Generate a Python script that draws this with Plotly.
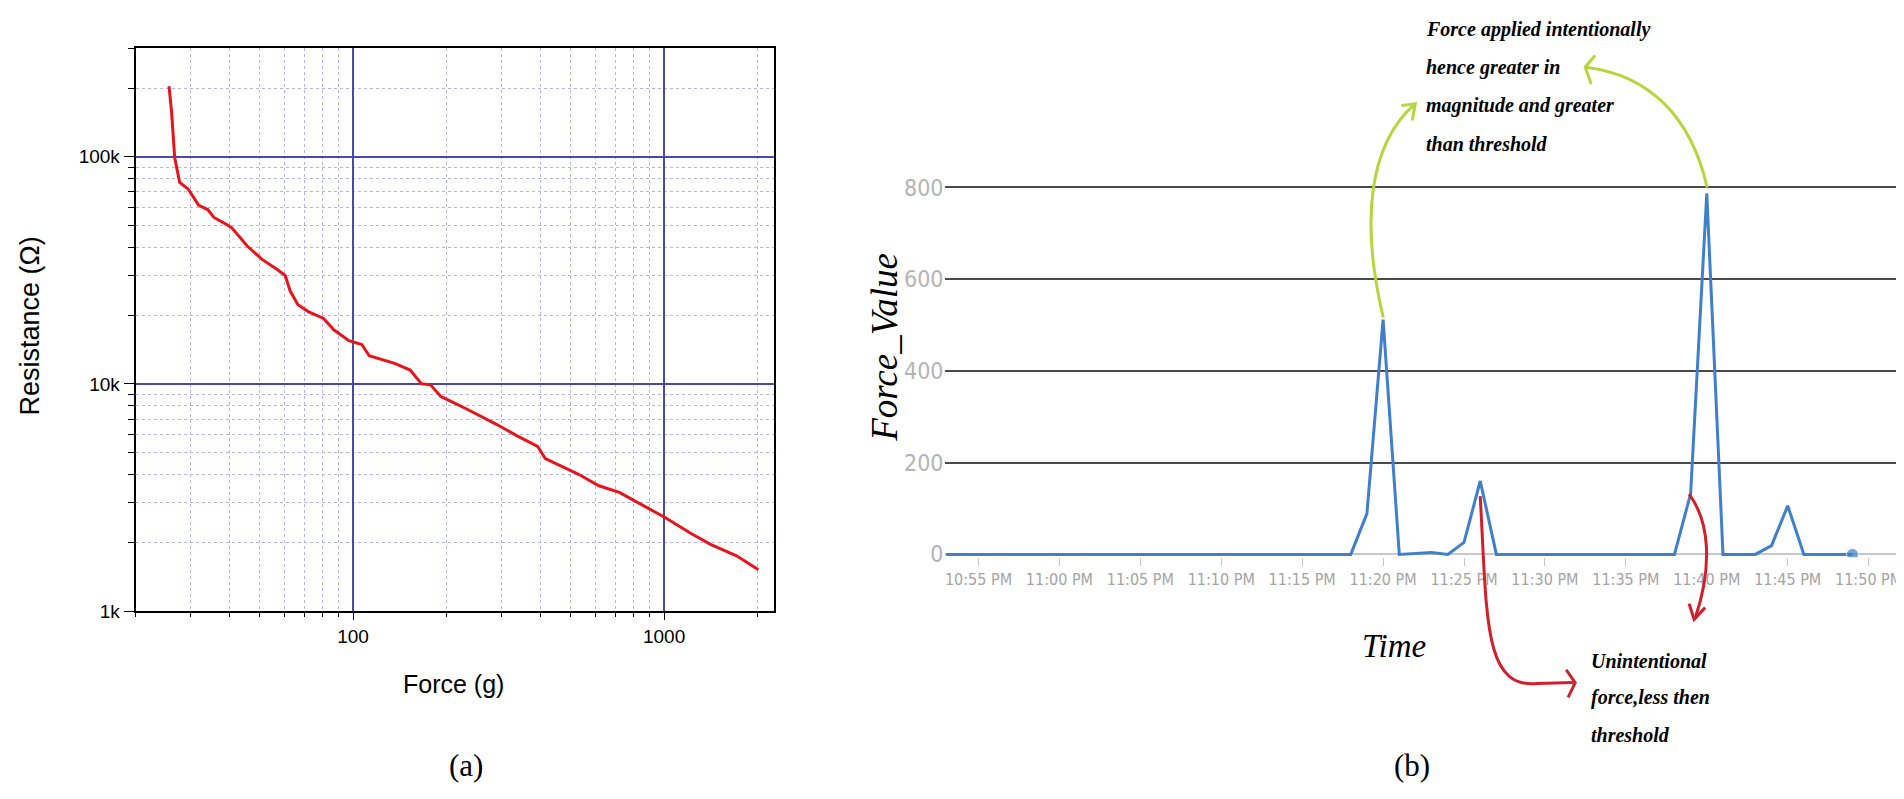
import plotly.graph_objects as go
import pandas as pd

# ---- panel (a): FSR resistance vs force (log-log) ----
force_g = [25.6, 26.1, 26.7, 27.7, 29.5, 31.9, 34.1, 35.7, 38.5, 40.7, 45.6, 51.0, 57.2,
           60.5, 62.8, 66.5, 71.8, 80.4, 86.7, 97.0, 106.7, 112.7, 136.0, 152.6, 166.0,
           177.5, 191.5, 231.0, 290.0, 337.0, 392.0, 415.0, 531.0, 617.0, 718.0, 867.0,
           1007.0, 1217.0, 1415.0, 1710.0, 2010.0]
resistance_ohm = [204000, 157000, 99000, 77000, 72000, 61000, 58500, 54000, 51000, 48700,
                  40500, 35300, 31800, 30000, 25600, 22300, 20800, 19400, 17300, 15500,
                  14900, 13300, 12300, 11500, 10000, 9900, 8800, 7770, 6620, 5900, 5310,
                  4690, 4000, 3560, 3330, 2900, 2580, 2200, 1960, 1750, 1520]

res_tickvals = [1000, 10000, 100000]
res_ticktext = ["1k", "10k", "100k"]
force_tickvals = [100, 1000]
force_ticktext = ["100", "1000"]

# ---- panel (b): force value over time ----
time_start = "2017-01-01 22:53"
force_value = [0] * 25 + [0, 89, 512, 0, 2, 4, 0, 26, 160, 0] + [0] * 11 + \
              [132, 787, 0, 0, 0, 19, 106, 0, 0, 0, 0]
times = pd.date_range(time_start, periods=len(force_value), freq="1min")

top_note = ["Force applied intentionally", "hence greater in",
            "magnitude and greater", "than threshold"]
bottom_note = ["Unintentional", "force,less then", "threshold"]

W, H = 1904, 799
NARROW = "Liberation Sans Narrow, DejaVu Sans Condensed, Arial Narrow, Liberation Sans"
SERIF = "Liberation Serif, Times New Roman"


def px(x, y):
    return x / W, 1 - y / H


def path(points, cmd):
    # build an svg path in paper coordinates from pixel points
    out = []
    for c, pts in zip(cmd, points):
        s = " ".join("%.5f,%.5f" % px(*p) for p in pts)
        out.append(c + " " + s)
    return " ".join(out)


fig = go.Figure()

fig.add_trace(go.Scatter(
    x=force_g, y=resistance_ohm, mode="lines",
    line=dict(color="#e8141c", width=3),
    xaxis="x", yaxis="y", showlegend=False
))

sizes = [0] * (len(force_value) - 1) + [12]
fig.add_trace(go.Scatter(
    x=times, y=force_value, mode="lines+markers",
    line=dict(color="#3f7fcc", width=3),
    marker=dict(size=sizes, color="#3f7fcc"),
    xaxis="x2", yaxis="y2", showlegend=False
))

minor_x = [v * m for v in (10, 100, 1000) for m in range(2, 10) if 20 <= v * m <= 2000]
minor_y = [v * m for v in (1000, 10000, 100000) for m in range(2, 10) if v * m <= 300000]

fig.update_layout(
    width=W, height=H,
    margin=dict(l=0, r=0, t=0, b=0),
    paper_bgcolor="white", plot_bgcolor="white",
    font=dict(family="Liberation Sans, Arial", color="black"),
    xaxis=dict(
        type="log", domain=[127.7 / W, 766 / W], range=[1.301, 3.352],
        tickmode="array", tickvals=force_tickvals, ticktext=force_ticktext,
        tickfont=dict(size=19), ticks="outside", ticklen=7, tickcolor="black",
        showgrid=True, gridcolor="#4848b0", gridwidth=1.5,
        minor=dict(tickmode="array", tickvals=minor_x, ticks="outside", ticklen=4,
                   tickcolor="black", showgrid=True, gridcolor="#b4b4ea", griddash="dot",
                   gridwidth=1),
        showline=True, mirror=True, linecolor="black", linewidth=2,
        zeroline=False, anchor="y",
    ),
    yaxis=dict(
        type="log", domain=[1 - 611.5 / H, 1 - 40.8 / H], range=[3, 5.477],
        tickmode="array", tickvals=res_tickvals, ticktext=res_ticktext,
        tickfont=dict(size=19), ticks="outside", ticklen=10, tickcolor="black",
        showgrid=True, gridcolor="#4848b0", gridwidth=1.5,
        minor=dict(tickmode="array", tickvals=minor_y, ticks="outside", ticklen=6,
                   tickcolor="black", showgrid=True, gridcolor="#b4b4ea", griddash="dot",
                   gridwidth=1),
        showline=True, mirror=True, linecolor="black", linewidth=2,
        zeroline=False, anchor="x",
    ),
    xaxis2=dict(
        type="date", domain=[937 / W, 1894 / W],
        range=["2017-01-01 22:52:54", "2017-01-01 23:52:00"],
        tick0="2017-01-01 22:55", dtick=300000, tickformat="%-I:%M %p",
        tickfont=dict(size=16, color="#a4a4a4", family=NARROW),
        ticks="outside", ticklen=8, tickcolor="#c4c4c4",
        showgrid=False, showline=False, zeroline=False, anchor="y2",
    ),
    yaxis2=dict(
        domain=[1 - 556.8 / H, 1 - 112.25 / H], range=[-6, 950],
        tickmode="array", tickvals=[0, 200, 400, 600, 800],
        tickfont=dict(size=23, color="#b4b4b4", family=NARROW),
        showgrid=True, gridcolor="#4a4a4a", gridwidth=2,
        zeroline=True, zerolinecolor="#c8c8c8", zerolinewidth=2,
        showline=False, anchor="x2",
    ),
)

ann = []
# axis titles and panel labels
ann.append(dict(x=446 / W, y=1 - 685 / H, text="Force (g)", font=dict(size=25)))
ann.append(dict(x=22 / W, y=1 - 322 / H, text="Resistance (Ω)", textangle=-90,
                font=dict(size=27)))
ann.append(dict(x=877 / W, y=1 - 344 / H, text="<i>Force_Value</i>", textangle=-90,
                font=dict(size=37, family=SERIF)))
ann.append(dict(x=1387 / W, y=1 - 647 / H, text="<i>Time</i>",
                font=dict(size=33, family=SERIF)))
ann.append(dict(x=458 / W, y=1 - 768 / H, text="(a)", font=dict(size=31, family=SERIF)))
ann.append(dict(x=1405 / W, y=1 - 768 / H, text="(b)", font=dict(size=31, family=SERIF)))

for i, line in enumerate(top_note):
    ann.append(dict(x=1417 / W, y=1 - (22 + 38.5 * i) / H, text="<b><i>%s</i></b>" % line,
                    xanchor="left", font=dict(size=20, family=SERIF)))
for i, line in enumerate(bottom_note):
    ann.append(dict(x=1582 / W, y=1 - (662 + 37.5 * i) / H, text="<b><i>%s</i></b>" % line,
                    xanchor="left", font=dict(size=20, family=SERIF)))

for a in ann:
    a.setdefault("xanchor", "center")
    a.update(xref="paper", yref="paper", yanchor="middle", showarrow=False)
fig.update_layout(annotations=ann)

green = "#b5d63c"
red = "#d0202c"
shapes = [
    # green curved arrows
    dict(path=path([[(1376, 314)], [(1354, 220), (1360, 140), (1407, 98)]], ["M", "C"]),
         line=dict(color=green, width=3)),
    dict(path=path([[(1394, 99)], [(1408, 97)], [(1405, 114)]], ["M", "L", "L"]),
         line=dict(color=green, width=3)),
    dict(path=path([[(1700, 182)], [(1684, 110), (1642, 68), (1579, 60)]], ["M", "C"]),
         line=dict(color=green, width=3)),
    dict(path=path([[(1588, 48)], [(1578, 60)], [(1584, 77)]], ["M", "L", "L"]),
         line=dict(color=green, width=3)),
    # red curved arrows
    dict(path=path([[(1473, 495)], [(1480, 620), (1476, 690), (1530, 685)], [(1566, 684)]],
                   ["M", "C", "L"]),
         line=dict(color=red, width=3)),
    dict(path=path([[(1559, 671)], [(1568, 684)], [(1561, 699)]], ["M", "L", "L"]),
         line=dict(color=red, width=3)),
    dict(path=path([[(1682, 493)], [(1702, 520), (1706, 565), (1688, 619)]], ["M", "C"]),
         line=dict(color=red, width=3)),
    dict(path=path([[(1682, 604)], [(1687, 620)], [(1698, 608)]], ["M", "L", "L"]),
         line=dict(color=red, width=3)),
]
for s in shapes:
    s.update(type="path", xref="paper", yref="paper", layer="above")
fig.update_layout(shapes=shapes)

fig.write_html("out.html")
